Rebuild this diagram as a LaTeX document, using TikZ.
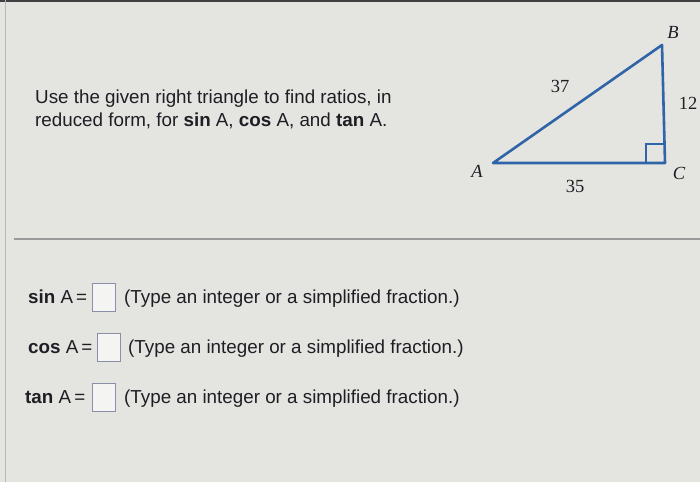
\documentclass[tikz,border=0pt]{standalone}
\usepackage{fontspec}
\setmainfont{Liberation Serif}
\setsansfont{Liberation Sans}
\definecolor{bg}{HTML}{E4E4E1}
\definecolor{tri}{HTML}{2F64A8}
\definecolor{txt}{HTML}{1E1E24}
\definecolor{boxc}{HTML}{8A8EA8}
\definecolor{rule}{HTML}{9A9A9A}
\tikzset{
  q/.style={font=\sffamily\fontsize{18.8}{22}\selectfont, text=txt, anchor=base west, inner sep=0pt},
  lab/.style={font=\fontsize{18.5}{22}\selectfont, text=txt, inner sep=0pt},
  ansbox/.style={draw=boxc, line width=0.9pt, fill=white!60!bg, minimum width=23pt, minimum height=28pt, inner sep=0pt},
  side/.style={draw=tri, line width=2.6pt, line join=round}
}
\begin{document}
\begin{tikzpicture}[x=1pt,y=-1pt]
\useasboundingbox (0,0) rectangle (700,482);
\fill[bg] (0,0) rectangle (700,482);
\fill[black!75] (0,0) rectangle (700,1.5);
\draw[rule!70, line width=0.8pt] (5,0) -- (5,482);
\draw[rule, line width=1.2pt] (14,239) -- (700,239);

% question text
\node[q] (l1) at (35,103) {Use the given right triangle to find ratios, in};
\node[q] (l2) at (35,126) {reduced form, for \textbf{sin} A, \textbf{cos} A, and \textbf{tan} A.};

% triangle
\coordinate (A) at (493,163);
\coordinate (B) at (662,45);
\coordinate (C) at (665,163);
\draw[side] (A) -- (B) -- (C) -- cycle;
\draw[tri, line width=1.3pt] (646,163) -- (646,144) -- (665,144);
\node[lab] (la) at (477,171) {\textit{A}};
\node[lab] (lb) at (673,32) {\textit{B}};
\node[lab] (lc) at (679,173) {\textit{C}};
\node[lab] (l37) at (560,86) {37};
\node[lab] (l12) at (688,103) {12};
\node[lab] (l35) at (575,186) {35};

% answer rows
\node[q] (s1) at (28,303) {\textbf{sin} A\,=};
\node[ansbox] (b1) at (104,297.5) {};
\node[q] (t1) at (124,303) {(Type an integer or a simplified fraction.)};

\node[q] (s2) at (28,353) {\textbf{cos} A\,=};
\node[ansbox] (b2) at (109,347.5) {};
\node[q] (t2) at (128,353) {(Type an integer or a simplified fraction.)};

\node[q] (s3) at (25,403) {\textbf{tan} A\,=};
\node[ansbox] (b3) at (104,397.5) {};
\node[q] (t3) at (124,403) {(Type an integer or a simplified fraction.)};
\end{tikzpicture}
\end{document}
